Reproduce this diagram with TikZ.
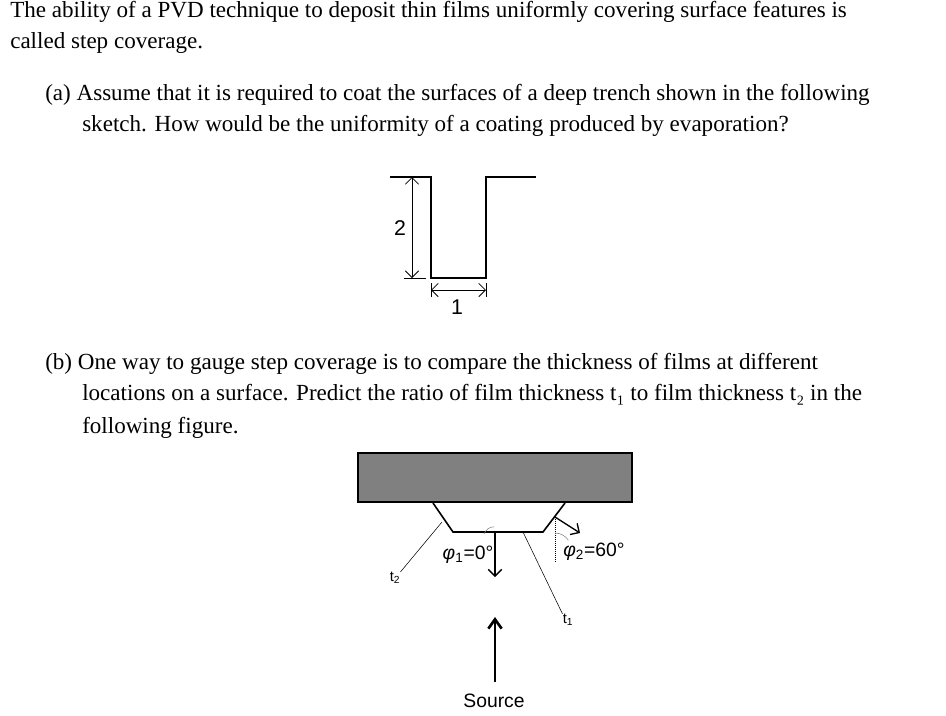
\documentclass[tikz,border=0pt]{standalone}
\usepackage{fontspec}
\setmainfont{Liberation Serif}
\newfontfamily\arial{Liberation Sans}
\usetikzlibrary{arrows.meta}
\begin{document}
\begin{tikzpicture}[x=0.75pt,y=-0.75pt,
  txt/.style={anchor=west,inner sep=0,font=\fontsize{17.3pt}{20pt}\selectfont},
  lab/.style={inner sep=0,font=\arial\fontsize{14.5pt}{16pt}\selectfont},
  thk/.style={line width=2.2pt},
  dim/.style={line width=0.6pt,{Straight Barb[length=5pt]}-{Straight Barb[length=5pt]}}]
\useasboundingbox (0,0) rectangle (946,715);
\node[txt] (l1) at (10,12) {The ability of a PVD technique to deposit thin films uniformly covering surface features is};
\node[txt] (l2) at (10,43) {called step coverage.};
\node[txt] (l3) at (45,95) {(a) Assume that it is required to coat the surfaces of a deep trench shown in the following};
\node[txt] (l4) at (82,126) {sketch. How would be the uniformity of a coating produced by evaporation?};
\node[txt] (l5) at (45,364) {(b) One way to gauge step coverage is to compare the thickness of films at different};
\node[txt] (l6) at (82,395) {locations on a surface. Predict the ratio of film thickness t₁ to film thickness t₂ in the};
\node[txt] (l7) at (82,428) {following figure.};
% trench
\draw[thk] (390,177) -- (431,177) -- (431,278) -- (486,278) -- (486,177) -- (536,177);
\coordinate (d1) at (412,177); \coordinate (d2) at (412,278);
\draw[dim] (d1) -- (d2);
\draw[line width=0.6pt] (404,278) -- (426,278);
\node[lab,font=\arial\fontsize{16pt}{18pt}\selectfont] (two) at (400,228) {2};
\coordinate (h1) at (431,290); \coordinate (h2) at (486,290);
\draw[dim] (h1) -- (h2);
\draw[line width=0.6pt] (431,283) -- (431,297) (486,283) -- (486,297);
\node[lab,font=\arial\fontsize{16pt}{18pt}\selectfont] (one) at (457,307) {1};
% part b
\draw[fill=black!50,line width=1.5pt] (358,453) rectangle (632,502);
\draw[line width=1.2pt] (433,503) -- (453,532) -- (543,532) -- (565,503);
\node[lab,font=\arial\fontsize{11pt}{13pt}\selectfont] (t2) at (395,578) {t\textsubscript{2}};
\node[lab,font=\arial\fontsize{11pt}{13pt}\selectfont] (t1) at (568,620) {t\textsubscript{1}};
\draw[line width=0.4pt] (442,522) -- (t2.north east);
\draw[line width=0.4pt] (523,532) -- (t1.north west);
\draw[line width=1pt,-{Straight Barb[length=5pt]}] (495,532) -- (495,577);
\draw[line width=0.4pt,gray] (484,534) arc[start angle=200,end angle=270,radius=11];
\node[lab] (p1) at (468,555) {\textit{φ}\textsubscript{1}=0°};
\draw[line width=1pt,-{Straight Barb[length=5pt]}] (555,517) -- (580,533);
\draw[line width=0.5pt,densely dotted] (555,517) -- (555,562);
\draw[line width=0.4pt,gray] (555,533) arc[start angle=270,end angle=327,radius=16];
\node[lab] (p2) at (594,552) {\textit{φ}\textsubscript{2}=60°};
\draw[line width=2pt,-{Straight Barb[length=7pt,width=10pt]}] (495,682) -- (495,617);
\node[lab] (src) at (494,701) {Source};
\end{tikzpicture}
\end{document}
